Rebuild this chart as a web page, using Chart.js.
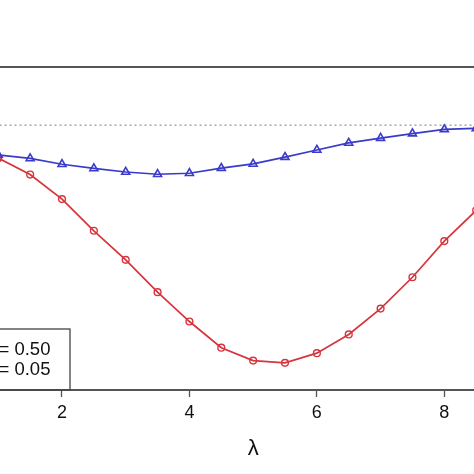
<!DOCTYPE html>
<html>
<head>
<meta charset="utf-8">
<script src="https://cdn.jsdelivr.net/npm/chart.js@4/dist/chart.umd.min.js"></script>
<style>
html,body{margin:0;padding:0;background:#fff;overflow:hidden}
canvas{display:block}
</style>
</head>
<body>
<canvas id="c" width="474" height="474"></canvas>
<script>
// ---- data (y axis is not visible, values on a 0..1 scale of the plot box) ----
const lambdas = [1, 1.5, 2, 2.5, 3, 3.5, 4, 4.5, 5, 5.5, 6, 6.5, 7, 7.5, 8, 8.5];
const blueSeries = [0.728, 0.717, 0.699, 0.686, 0.675, 0.668, 0.671, 0.687, 0.700, 0.721, 0.743, 0.765, 0.780, 0.794, 0.807, 0.810];
const redSeries  = [0.718, 0.667, 0.591, 0.493, 0.403, 0.303, 0.212, 0.131, 0.091, 0.084, 0.114, 0.172, 0.252, 0.349, 0.461, 0.556];
const refLevel = 0.820;
const xTicks = [2, 4, 6, 8];
const legendLabels = ['= 0.50', '= 0.05'];
const xTitle = 'λ';
const xTitleAt = 5; // centre of the full (cropped) plot range

const BLUE = '#3a3acb';
const RED = '#d8343c';
const AXIS = '#555555';
const FONT = '"Liberation Sans", Arial, Helvetica, sans-serif';

const toXY = (ys) => lambdas.map((x, i) => ({x: x, y: ys[i]}));

const framePlugin = {
  id: 'frame',
  afterDatasetsDraw(chart) {
    const {ctx, chartArea: a} = chart;
    const xs = chart.scales.x;
    ctx.save();
    ctx.strokeStyle = AXIS;
    ctx.lineWidth = 2;
    ctx.beginPath();
    ctx.moveTo(a.left - 5, a.top);
    ctx.lineTo(a.right + 5, a.top);
    ctx.stroke();
    // legend box (bottom-left of plot box, partly outside the picture)
    const boxRight = 70, boxTop = a.bottom - 61;
    ctx.lineWidth = 1.3;
    ctx.strokeStyle = '#444';
    ctx.strokeRect(-100, boxTop, boxRight + 100, a.bottom - boxTop);
    ctx.fillStyle = '#111';
    ctx.font = '18.5px ' + FONT;
    ctx.textBaseline = 'middle';
    ctx.textAlign = 'left';
    legendLabels.forEach((t, i) => {
      ctx.fillText(t, -1.5, boxTop + 21 + i * 20);
    });
    // x-axis title, centred on the full plot (which extends beyond the picture)
    ctx.font = '22px ' + FONT;
    ctx.textAlign = 'center';
    ctx.textBaseline = 'alphabetic';
    ctx.fillText(xTitle, xs.getPixelForValue(xTitleAt), 455);
    ctx.restore();
  }
};

new Chart(document.getElementById('c'), {
  type: 'line',
  data: {
    datasets: [
      {
        label: 'ref',
        data: [{x: 0, y: refLevel}, {x: 10, y: refLevel}],
        borderColor: '#777',
        borderWidth: 1,
        borderDash: [2, 3],
        pointRadius: 0,
        fill: false
      },
      {
        label: legendLabels[1],
        data: toXY(blueSeries),
        borderColor: BLUE,
        borderWidth: 1.7,
        pointStyle: 'triangle',
        pointRadius: 4.6,
        pointBorderWidth: 1.6,
        pointBorderColor: BLUE,
        pointBackgroundColor: 'rgba(0,0,0,0)',
        fill: false,
        tension: 0,
        clip: false
      },
      {
        label: legendLabels[0],
        data: toXY(redSeries),
        borderColor: RED,
        borderWidth: 1.7,
        pointStyle: 'circle',
        pointRadius: 3.4,
        pointBorderWidth: 1.4,
        pointBorderColor: RED,
        pointBackgroundColor: 'rgba(0,0,0,0)',
        fill: false,
        tension: 0,
        clip: false
      }
    ]
  },
  options: {
    responsive: false,
    devicePixelRatio: 1,
    animation: false,
    layout: {autoPadding: false, padding: {top: 67, left: 0, right: 0, bottom: 0}},
    plugins: {legend: {display: false}, tooltip: {enabled: false}},
    scales: {
      x: {
        type: 'linear',
        min: 1.027,
        max: 8.466,
        afterBuildTicks: (s) => { s.ticks = xTicks.map(v => ({value: v})); },
        afterFit: (s) => { s.height = 84; s.paddingLeft = 0; s.paddingRight = 0; },
        grid: {display: true, drawOnChartArea: false, drawTicks: true, tickLength: 7, tickColor: AXIS, tickWidth: 1.3},
        border: {display: true, color: AXIS, width: 2},
        ticks: {
          autoSkip: false,
          maxRotation: 0,
          padding: 5,
          color: '#111',
          font: {family: FONT, size: 18},
          callback: (v) => String(v)
        },
        title: {display: false}
      },
      y: {
        type: 'linear',
        display: false,
        min: 0,
        max: 1
      }
    }
  },
  plugins: [framePlugin]
});
</script>
</body>
</html>
